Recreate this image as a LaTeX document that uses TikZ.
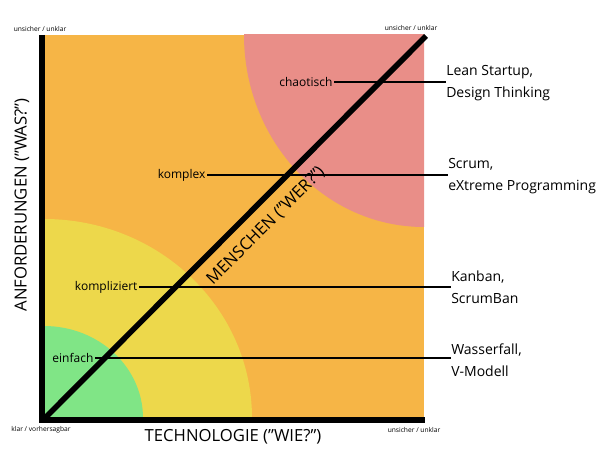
\documentclass[tikz,border=0pt]{standalone}
\usepackage{fontspec}
\setmainfont{Open Sans}
\definecolor{orangebg}{HTML}{F6B546}
\definecolor{redbg}{HTML}{E98E88}
\definecolor{yellowbg}{HTML}{EDD84B}
\definecolor{greenbg}{HTML}{80E586}
\begin{document}
\begin{tikzpicture}[x=0.75pt,y=-0.75pt,
  lbl/.style={font=\fontsize{9}{10}\selectfont, inner sep=1pt, anchor=east},
  meth/.style={font=\fontsize{10.5}{16.5}\selectfont, align=left, anchor=west, inner sep=0pt},
  tinylbl/.style={font=\fontsize{5}{6}\selectfont, inner sep=0pt},
  axislbl/.style={font=\fontsize{12.5}{14}\selectfont, inner sep=0pt},
  hline/.style={line width=1.5pt},
  axisline/.style={line width=4.5pt},
  diagline/.style={line width=4.2pt, line cap=butt}
  ]
\useasboundingbox (0,0) rectangle (600,466);
% background regions
\fill[orangebg] (44,35) rectangle (424,418);
\begin{scope}
  \clip (44,35) rectangle (424,418);
  \fill[redbg] (424,35) ellipse [x radius=135pt, y radius=144pt];
  \fill[yellowbg] (44,418) ellipse [x radius=156pt, y radius=149.25pt];
  \fill[greenbg] (44,418) ellipse [x radius=74.25pt, y radius=69pt];
\end{scope}
% labels and connectors
\node[lbl] (chao) at (334,82) {chaotisch};
\node[meth] (lean) at (446,83) {Lean Startup,\\Design Thinking};
\draw[hline] (chao.east) -- (chao.east -| lean.west);
\node[lbl] (kx) at (207,175) {komplex};
\node[meth] (scrum) at (448,176) {Scrum,\\eXtreme Programming};
\draw[hline] (kx.east) -- (kx.east -| scrum.west);
\node[lbl] (kz) at (139,287) {kompliziert};
\node[meth] (kanban) at (451,287) {Kanban,\\ScrumBan};
\draw[hline] (kz.east) -- (kz.east -| kanban.west);
\node[lbl] (ef) at (95,358) {einfach};
\node[meth] (wf) at (451,360) {Wasserfall,\\V-Modell};
\draw[hline] (ef.east) -- (ef.east -| wf.west);
% diagonal
\coordinate (orig) at (45,418);
\coordinate (topright) at (426,36);
\draw[diagline] (orig) -- (topright);
% axes
\coordinate (ytop) at (42,35);
\coordinate (corner) at (42,420);
\coordinate (xend) at (425,420);
\draw[axisline] (ytop) -- (corner) -- (xend);
% corner texts
\node[tinylbl] (tl) at (40,29) {unsicher / unklar};
\node[tinylbl] (trl) at (411,28) {unsicher / unklar};
\node[tinylbl] (brl) at (414,430) {unsicher / unklar};
\node[tinylbl] (bll) at (41,430) {klar / vorhersagbar};
% axis labels
\node[axislbl] (xlab) at (233,437) {TECHNOLOGIE ("WIE?")};
\node[axislbl, rotate=90] (ylab) at (22,205) {ANFORDERUNGEN ("WAS?")};
\node[axislbl, rotate=45] (dlab) at (266,226) {MENSCHEN ("WER?")};
\end{tikzpicture}
\end{document}
